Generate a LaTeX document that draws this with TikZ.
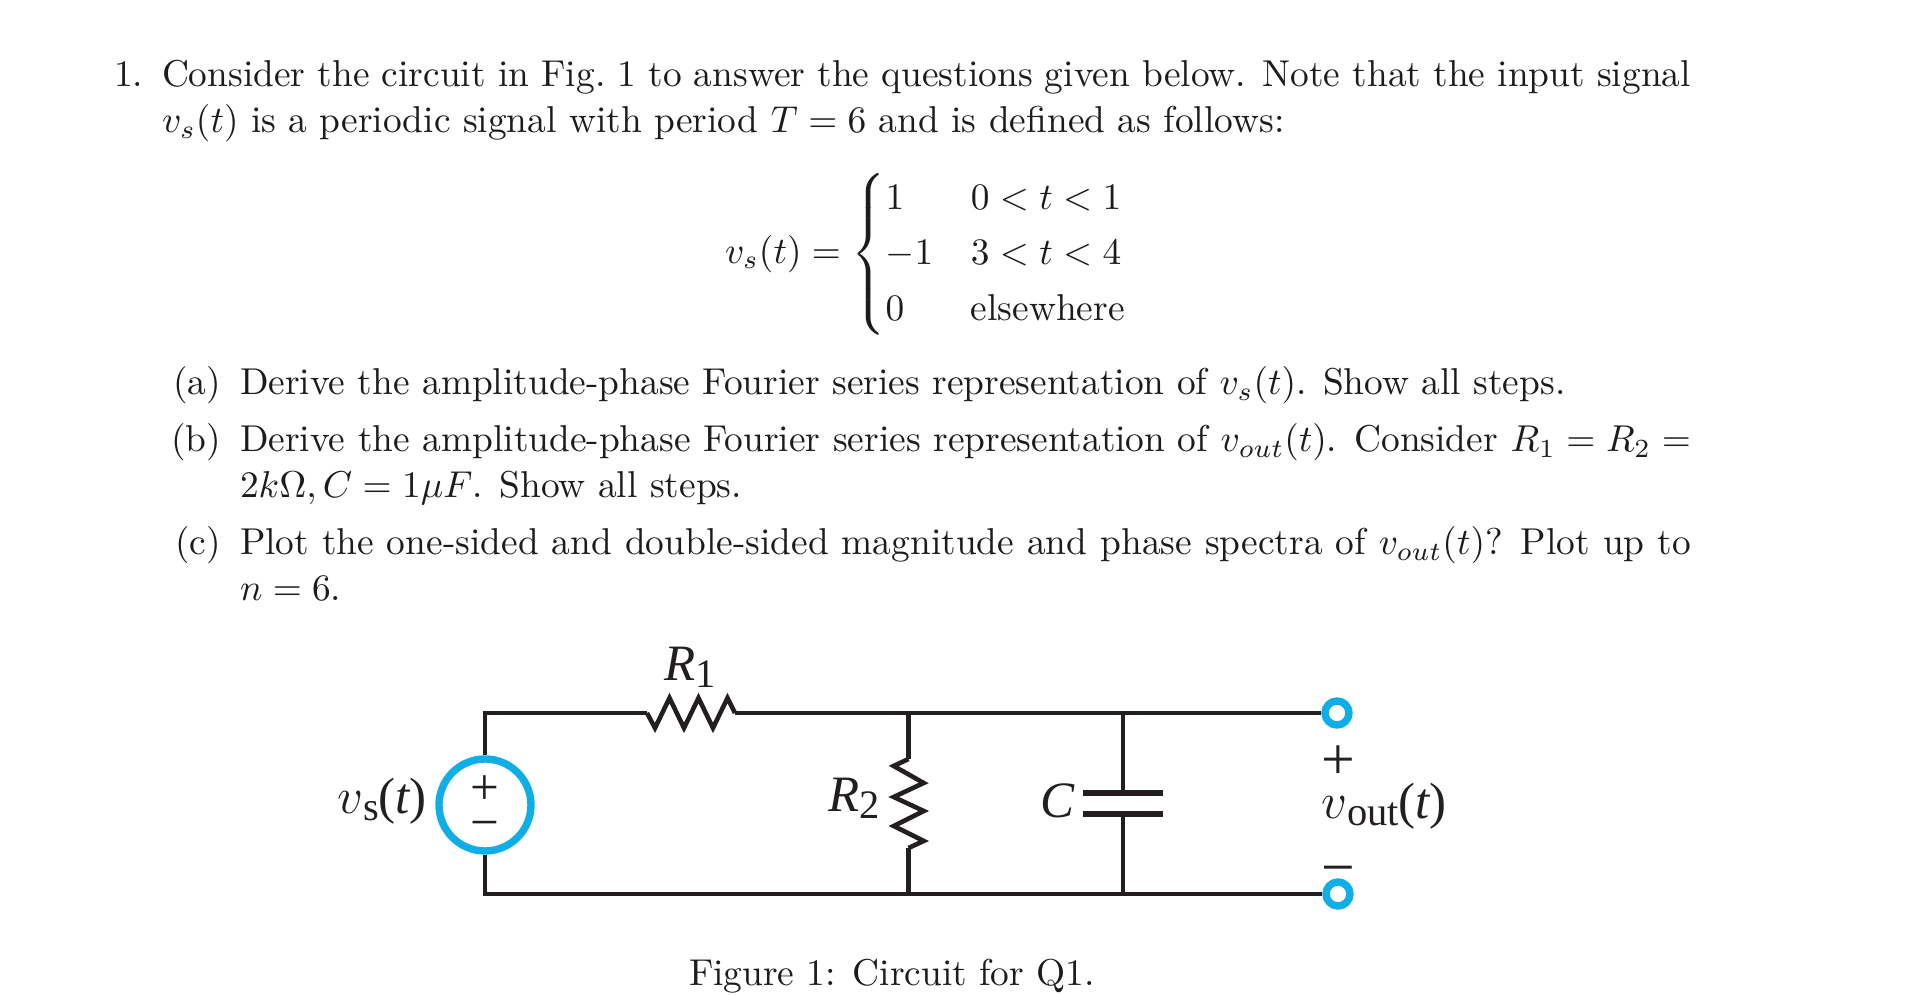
\documentclass[tikz,border=0pt]{standalone}
\usepackage{fix-cm}
\usepackage{amsmath}
\usepackage{fontspec}
\usetikzlibrary{calc}
\newfontfamily\circfont{Liberation Serif}
\definecolor{wirecol}{HTML}{231F20}
\definecolor{termcol}{HTML}{10AEE6}
\definecolor{inkcol}{HTML}{1C1C1C}
\newcommand{\lowsub}[1]{\raisebox{-0.28ex}{\fontsize{11.5}{12}\selectfont\upshape #1}}
\tikzset{
	wire/.style={draw=wirecol, line width=1.3pt, line join=miter},
	txt/.style={anchor=base west, inner sep=0pt, outer sep=0pt, text=inkcol, font=\fontsize{10.63}{13}\selectfont},
	lab/.style={anchor=base, inner sep=0pt, outer sep=0pt, text=wirecol, font=\circfont\fontsize{14.5}{16}\selectfont},
	term/.style={circle, draw=termcol, fill=white, line width=2.1pt, minimum size=24*0.01cm, inner sep=0pt}
}

\begin{document}
\begin{tikzpicture}[x=0.01cm, y=-0.01cm]
	\useasboundingbox (0, 0) rectangle (1920, 995);
	%%%%% TEXT %%%%%
	\node[txt] (numone) at (114, 87) {1.};
	\node[txt] (lineone) at (162, 87) {\makebox[15.28cm][s]{Consider the circuit in Fig.\ 1 to answer the questions given below. Note that the input signal}};
	\node[txt] (linetwo) at (162, 133) {$v_s(t)$ is a periodic signal with period $T=6$ and is defined as follows:};
	\node[txt, anchor=west] (vsdef) at (725, 254) {$v_s(t)=\begin{cases}1 & 0<t<1\\[0.3pt] -1 & 3<t<4\\[0.3pt] 0 & \text{elsewhere}\end{cases}$};
	
	\node[txt] (labela) at (173, 395) {(a)};
	\node[txt] (itema) at (240, 395) {Derive the amplitude-phase Fourier series representation of $v_s(t)$. Show all steps.};
	\node[txt] (labelb) at (171, 452) {(b)};
	\node[txt] (itemb) at (240, 452) {\makebox[14.5cm][s]{Derive the amplitude-phase Fourier series representation of $v_{out}(t)$. Consider $R_1=R_2=$}};
	\node[txt] (itembb) at (240, 498) {$2k\Omega, C=1\mu F$. Show all steps.};
	\node[txt] (labelc) at (175, 555) {(c)};
	\node[txt] (itemc) at (240, 555) {\makebox[14.5cm][s]{Plot the one-sided and double-sided magnitude and phase spectra of $v_{out}(t)$? Plot up to}};
	\node[txt] (itemcc) at (240, 601) {$n=6$.};
	\node[txt] (caption) at (689, 986) {Figure 1: Circuit for Q1.};
	
	%%%%% CIRCUIT %%%%%
	\node[circle, draw=termcol, fill=white, line width=2.1pt, minimum size=92*0.01cm, inner sep=0pt] (vsrc) at (485, 805) {};
	\node[term] (topterm) at (1337, 713) {};
	\node[term] (botterm) at (1338, 894) {};
	
	\coordinate (rowa) at (647, 713);
	\coordinate (rowb) at (735, 713);
	\coordinate (rtwoa) at (908.5, 759);
	\coordinate (rtwob) at (908.5, 848);
	\coordinate (capa) at (1123, 793);
	\coordinate (capb) at (1123, 814);
	\coordinate (toptwo) at (908.5, 713);
	\coordinate (topcap) at (1123, 713);
	\coordinate (bottwo) at (908.5, 894);
	\coordinate (botcap) at (1123, 894);
	
	\draw[wire] (vsrc.north) |- (rowa);
	\draw[wire] (rowa) -- (655, 728) -- (669.5, 698) -- (684, 728) -- (698.5, 698) -- (713, 728) -- (727.5, 698) -- (rowb);
	\draw[wire] (rowb) -- (topterm.west);
	\draw[wire] (vsrc.south) |- (botterm.west);
	
	\draw[wire] (toptwo) -- (rtwoa);
	\draw[wire] (rtwoa) -- (893.7, 766) -- (923.7, 783) -- (893.7, 797) -- (923.7, 811) -- (893.7, 826) -- (923.7, 841) -- (rtwob);
	\draw[wire] (rtwob) -- (bottwo);
	
	\draw[wire] (topcap) -- (capa);
	\draw[wire] (capb) -- (botcap);
	\draw[wire, line width=1.45pt] (1083, 793) -- (1163, 793);
	\draw[wire, line width=1.45pt] (1083, 814) -- (1163, 814);
	
	\node[lab] (rone) at (690, 681) {\itshape R\lowsub{1}};
	\node[lab] (rtwo) at (854, 812) {\itshape R\lowsub{2}};
	\node[lab] (clab) at (1057, 818) {\itshape C};
	\node[lab] (vslab) at (382, 814) {$v$\lowsub{s}\upshape(\itshape t\upshape)};
	\node[lab] (voutlab) at (1384, 819) {$v$\lowsub{out}\upshape(\itshape t\upshape)};
	\node[lab] (srcplus) at (485, 805) {+};
	\node[lab] (srcminus) at (485, 840) {−};
	\node[lab, font=\circfont\fontsize{17}{18}\selectfont] (outplus) at (1338, 780) {+};
	\node[lab, font=\circfont\fontsize{17}{18}\selectfont] (outminus) at (1338, 888) {−};
\end{tikzpicture}
\end{document}
